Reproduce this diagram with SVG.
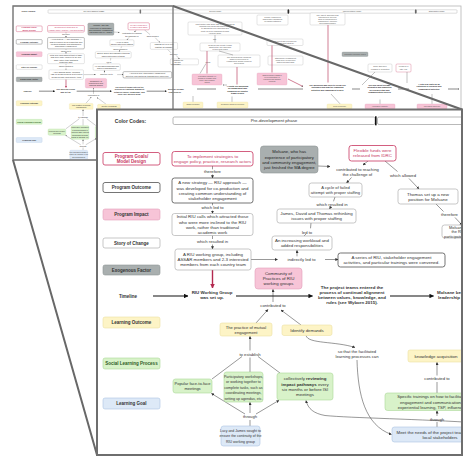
<svg xmlns="http://www.w3.org/2000/svg" xmlns:xlink="http://www.w3.org/1999/xlink" width="474" height="462" viewBox="0 0 474 462">
<style>
text{font-family:"Liberation Sans",Arial,sans-serif;fill:#333;text-anchor:middle}
.n{font-size:4.4px}
.st{text-anchor:start}
.lb{font-size:4.2px;fill:#333}
.b{font-weight:bold}
.leg{font-size:4.5px;font-weight:bold}
.cr{fill:#c8365f}
.box{fill:#fff;stroke:#a3a3a3;stroke-width:0.6}
.goal{fill:#fff;stroke:#c8365f;stroke-width:0.8}
.out{fill:#fff;stroke:#3a3a3a;stroke-width:0.7}
.imp{fill:#f7c4d7;stroke:#e3a0bb;stroke-width:0.6}
.exo{fill:#a9afaf;stroke:#8d9393;stroke-width:0.6}
.lo{fill:#fdf4c6;stroke:#ece0a2;stroke-width:0.6}
.slp{fill:#d8f2c9;stroke:#abd998;stroke-width:0.6}
.lg{fill:#dde9f7;stroke:#abc4e2;stroke-width:0.6}
.ph{fill:#fff;stroke:#8a8a8a;stroke-width:0.6}
.c{stroke:#333;stroke-width:0.5;fill:none}
.tl{stroke:#111;stroke-width:1.1;fill:none}
.red{stroke:#b3294f;stroke-width:1.4;fill:none}
.tt{font-size:1.9px;fill:#555}
.ttb{font-size:2px;font-weight:bold;fill:#222}
.thin{stroke-width:0.3}
</style>
<defs>
<marker id="a" viewBox="0 0 10 10" refX="9" refY="5" markerWidth="3" markerHeight="3" orient="auto" markerUnits="userSpaceOnUse"><path d="M0,0L10,5L0,10z" fill="#333"/></marker>
<marker id="at" viewBox="0 0 10 10" refX="9" refY="5" markerWidth="4.5" markerHeight="4.5" orient="auto" markerUnits="userSpaceOnUse"><path d="M0,0L10,5L0,10z" fill="#111"/></marker>
<marker id="ar" viewBox="0 0 10 10" refX="9" refY="5" markerWidth="4.5" markerHeight="4.5" orient="auto" markerUnits="userSpaceOnUse"><path d="M0,0L10,5L0,10z" fill="#b3294f"/></marker>
<marker id="as" viewBox="0 0 10 10" refX="9" refY="5" markerWidth="1.6" markerHeight="1.6" orient="auto" markerUnits="userSpaceOnUse"><path d="M0,0L10,5L0,10z" fill="#222"/></marker>
<clipPath id="thumbClip"><rect x="13" y="6" width="448" height="154"/></clipPath>
<clipPath id="zoomClip"><rect x="98" y="110.5" width="363" height="343.5"/></clipPath>
</defs>
<rect width="474" height="462" fill="#fff"/>

<g id="thumbnail">
<rect x="13" y="6" width="448" height="154" fill="#fff" stroke="#b5b5b5" stroke-width="0.8"/>
<g clip-path="url(#thumbClip)">
<use href="#zoomContent" xlink:href="#zoomContent" transform="scale(0.4545) translate(-67.3,-95.4)"/>
<g id="thumb-right">
<text class="tt" x="215.3" y="12.2">Second phase</text>
<rect class="ph thin" x="289.5" y="9.8" width="125.5" height="3.4" rx="0.7"/>
<text class="tt" x="352" y="12.2">Implementation phase</text>
<rect class="ph thin" x="416.5" y="9.8" width="40.5" height="3.4" rx="0.7"/>
<text class="tt" x="436.7" y="12.2">Stabilisation phase</text>
<rect x="288.2" y="9.4" width="0.9" height="4.2" fill="#111"/>
<rect x="415.4" y="9.4" width="0.9" height="4.2" fill="#111"/>
<g id="t-b1"><rect class="box thin" x="188" y="22" width="54" height="13" rx="1"/><text class="tt" x="215" y="24.9">MIS together with SPS/ASSAR team members<tspan x="215" dy="2.2">organised meetings with stakeholders</tspan><tspan x="215" dy="2.2">to discuss the RIU approach and</tspan><tspan x="215" dy="2.2">jointly develop engagement plans</tspan><tspan x="215" dy="2.2">(Wyborn 2015)</tspan></text></g>
<text class="tt" x="214.5" y="40.2">and</text>
<g id="t-b2"><rect class="box thin" x="200" y="43" width="40" height="8" rx="1"/><text class="tt" x="220" y="45.6">Regional and country teams<tspan x="220" dy="2.2">adopted the RIU approach</tspan><tspan x="220" dy="2.2">in their work plans</tspan></text></g>
<text class="tt" x="208" y="62.5">which</text>
<g id="t-b3"><rect class="box thin" x="218" y="55" width="42" height="12" rx="1"/><text class="tt" x="239" y="57.7">RIU working group members<tspan x="239" dy="2.2">shared experiences of</tspan><tspan x="239" dy="2.2">engagement across countries</tspan><tspan x="239" dy="2.2">and regions</tspan></text></g>
<g id="t-p1"><rect class="imp thin" x="192" y="74" width="30" height="11" rx="1"/><text class="tt" x="207" y="76.8">Increased capacity of<tspan x="207" dy="2.2">teams to engage with</tspan><tspan x="207" dy="2.2">policy and practice</tspan><tspan x="207" dy="2.2">actors</tspan></text></g>
<g id="t-p2"><rect class="imp thin" x="257" y="73" width="30" height="12" rx="1"/><text class="tt" x="272" y="75.8">Stakeholders engaged<tspan x="272" dy="2.2">in co-production of</tspan><tspan x="272" dy="2.2">research and shared</tspan><tspan x="272" dy="2.2">learning</tspan></text></g>
<g id="t-b4"><rect class="box thin" x="257" y="15" width="31" height="10" rx="1"/><text class="tt" x="272.5" y="18">Country teams held<tspan x="272.5" dy="2.2">stakeholder workshops</tspan><tspan x="272.5" dy="2.2">on impact pathways</tspan></text></g>
<g id="t-b5"><rect class="box thin" x="267" y="39" width="36" height="6.5" rx="1"/><text class="tt" x="285" y="41.8">The RIU team reviewed the<tspan x="285" dy="2.2">engagement strategy</tspan></text></g>
<g id="t-b6"><rect class="box thin" x="268" y="56" width="35" height="9" rx="1"/><text class="tt" x="285.5" y="58.8">Stakeholder engagement<tspan x="285.5" dy="2.2">plans were revised and</tspan><tspan x="285.5" dy="2.2">shared across teams</tspan></text></g>
<g id="t-b7"><rect class="box thin" x="310" y="13" width="35" height="12" rx="1"/><text class="tt" x="327.5" y="15.6">The 'Talent' approach was<tspan x="327.5" dy="2.2">introduced to develop</tspan><tspan x="327.5" dy="2.2">skills of researchers in</tspan><tspan x="327.5" dy="2.2">engagement, influence</tspan><tspan x="327.5" dy="2.2">and communication</tspan></text></g>
<g id="t-e1"><rect class="exo thin" x="342" y="52" width="26" height="4.5" rx="1"/><text class="tt" x="355" y="55">Thematic research ended</text></g>
<g id="t-b8"><rect class="box thin" x="368" y="64" width="24" height="8" rx="1"/><text class="tt" x="380" y="67.3">Some staff were<tspan x="380" dy="2.2">engaged in consulting</tspan></text></g>
<g id="t-g1"><rect class="goal thin" x="396" y="64" width="15" height="8" rx="1"/><text class="tt cr" x="403.5" y="67.3">Funds for a<tspan x="403.5" dy="2.2">fifth year</tspan></text></g>
<g id="t-tl1"><text class="ttb" x="237.5" y="87">A fourth RIU workshop<tspan x="237.5" dy="2.3">on engagement was</tspan><tspan x="237.5" dy="2.3">organised for country</tspan><tspan x="237.5" dy="2.3">teams in 2016</tspan></text></g>
<g id="t-tl2"><text class="ttb" x="327.5" y="86">The workshop was used to review RIU<tspan x="327.5" dy="2.3">outcomes and plan the remaining</tspan><tspan x="327.5" dy="2.3">activities and engagement in 2017</tspan></text></g>
<g id="t-tl3"><text class="ttb" x="379.5" y="86">RIU and Talent became<tspan x="379.5" dy="2.3">integrated and supported</tspan><tspan x="379.5" dy="2.3">by research staff and</tspan><tspan x="379.5" dy="2.3">communication officers</tspan></text></g>
<g id="t-tl4"><text class="ttb" x="429" y="85">A fifth year party as an<tspan x="429" dy="2.3">extension of research and</tspan><tspan x="429" dy="2.3">engagement activities</tspan></text></g>
<g id="t-lo"><rect class="lo thin" x="183" y="102" width="20" height="6" rx="1"/><rect class="lo thin" x="217" y="102" width="31" height="6" rx="1"/><rect class="lo thin" x="327" y="104" width="25" height="5" rx="1"/><rect class="imp thin" x="365" y="104" width="30" height="5" rx="1"/><rect class="imp thin" x="417" y="104" width="30" height="5" rx="1"/><text class="tt" x="193" y="104.6">Shared practice</text><text class="tt" x="232.5" y="104.6">Creating a shared repertoire</text><text class="tt" x="339.5" y="106.5">Joint enterprise</text><text class="tt" x="380" y="106.5">Increased capacity</text><text class="tt" x="432" y="106.5">Increased influence</text></g>
<g id="t-conn">
<path class="c thin" d="M215,35V42.6M219,51L233,55M206,63.5L200,73.5M193,101.8V96M232,101.8V96.5M340,103.8L331,94M380,103.8V99.5M432,103.8V94M375,72L362,85M407,72V83M227,85L223,85" marker-end="url(#as)"/>
<path class="tl" style="stroke-width:0.5" d="M197,89H216M258,89H303M352,89H360M398,89H409M448,89H459" marker-end="url(#as)"/>
<path class="red" style="stroke-width:0.6" d="M207,51V73.5M237,67V84.5M272,45.5V72.5M328,25V82.5M288,79L303,86.5" marker-end="url(#as)"/>
</g>
</g>
</g>
</g>

<g id="magnifier">
<path d="M97,160H13V6H173V109.5" fill="none" stroke="#777" stroke-width="1.3"/>
<path d="M173,6L462,109.5M13,160L97,455" fill="none" stroke="#686868" stroke-width="2"/>
</g>

<g id="zoom-panel">
<rect x="97" y="109.5" width="365" height="345.5" fill="#fff" stroke="#6e6e6e" stroke-width="2"/>
<g clip-path="url(#zoomClip)">
<g id="zoomContent">
<g id="header">
<text class="leg" style="font-size:5px" x="130.5" y="122.8">Color Codes:</text>
<rect class="ph" x="173" y="117" width="202" height="7.5" rx="1.5"/>
<text class="n" x="274" y="122.3">Pre-development phase</text>
<rect x="375" y="116.3" width="1.6" height="9" fill="#111"/>
<rect class="ph" x="377.5" y="117" width="323" height="7.5" rx="1.5"/>
<rect x="700.2" y="116.3" width="1.6" height="9" fill="#111"/>
</g>
<g id="legend">
<g id="leg-goal"><rect class="goal" x="103" y="152.5" width="57" height="12.5" rx="2"/><text class="leg cr" x="131.5" y="157.7">Program Goals/<tspan x="131.5" dy="5">Model Design</tspan></text></g>
<g id="leg-outcome"><rect class="out" x="103" y="182.5" width="57" height="10" rx="2"/><text class="leg" x="131.5" y="189.2">Program Outcome</text></g>
<g id="leg-impact"><rect class="imp" x="103" y="209" width="57" height="11" rx="2"/><text class="leg" x="131.5" y="216.1">Program Impact</text></g>
<g id="leg-story"><rect class="box" x="103" y="238" width="57" height="10" rx="2"/><text class="leg" x="131.5" y="244.7">Story of Change</text></g>
<g id="leg-exo"><rect class="exo" x="103" y="265" width="57" height="10" rx="2"/><text class="leg" x="131.5" y="271.7">Exogenous Factor</text></g>
<g id="leg-timeline"><text class="leg" x="128" y="297.6">Timeline</text></g>
<g id="leg-lo"><rect class="lo" x="103" y="317" width="57" height="11" rx="2"/><text class="leg" x="131.5" y="324.1">Learning Outcome</text></g>
<g id="leg-slp"><rect class="slp" x="103" y="358" width="57" height="11" rx="2"/><text class="leg" style="fill:#2d5a1f" x="131.5" y="365.1">Social Learning Process</text></g>
<g id="leg-lg"><rect class="lg" x="103" y="398" width="57" height="11" rx="2"/><text class="leg" x="131.5" y="405.1">Learning Goal</text></g>
</g>

<g id="connectors">
<path class="c" d="M212.5,166V169.3M212.5,203V205.3M212.5,235.5V239M335,197L333.5,201.3M311,223L310.5,228.3M306,234L304,236M385,161L397.5,171.5M436,204L443.5,211.5M437,393V382M437,427V422M250,426V420M242,356.5L212,379M258,356.5L280,373M250,357.5V372"/>
<path class="c" marker-end="url(#a)" d="M212.5,174.5V178"/>
<path class="c" marker-end="url(#a)" d="M212.5,210.5V213.5"/>
<path class="c" marker-end="url(#a)" d="M212.5,244.5V249"/>
<path class="c" marker-end="url(#a)" d="M251,259.5H277.5"/>
<path class="c" marker-end="url(#a)" d="M297,256.3V250.3"/>
<path class="c" marker-end="url(#a)" d="M325,259.5H338"/>
<path class="c" marker-end="url(#a)" d="M318,166L330,166.5"/>
<path class="c" marker-end="url(#a)" d="M368,161L363,165"/>
<path class="c" marker-end="url(#a)" d="M351.5,177.5L346.5,183"/>
<path class="c" marker-end="url(#a)" d="M331,206.5L329.5,209"/>
<path class="c" marker-end="url(#a)" d="M409,178.5L419,189"/>
<path class="c" marker-end="url(#a)" d="M455,217.5L462,225"/>
<path class="c" marker-end="url(#a)" d="M273,302V289.3"/>
<path class="c" marker-end="url(#a)" d="M256,323L268,309.5"/>
<path class="c" marker-end="url(#a)" d="M301,325L281,310"/>
<path class="c" marker-end="url(#a)" d="M250,350.5V336.3"/>
<path class="c" marker-end="url(#a)" d="M245,414L211.5,393.5"/>
<path class="c" marker-end="url(#a)" d="M256,414L279,400.3"/>
<path class="c" marker-end="url(#a)" d="M250,413V402.3"/>
<path class="c" marker-end="url(#a)" d="M437,375.5V362.3"/>
<path class="c" marker-end="url(#a)" d="M437,416V410.8"/>
<path class="c" marker-end="url(#a)" d="M306,335.5C308,344 335,341 355,347.5"/>
<path class="c" marker-end="url(#a)" d="M357,360C358,395 365,425 391.5,434.5"/>
<path class="c" marker-end="url(#a)" d="M480,423C420,419 350,418 325,415.5C314,413.5 308,409 306,400.5"/>
<path class="tl" marker-end="url(#at)" d="M153,296H188"/>
<path class="tl" marker-end="url(#at)" d="M236,296H312.5"/>
<path class="tl" marker-end="url(#at)" d="M390,296H433.5"/>
<path class="red" marker-end="url(#ar)" d="M212.5,270V288"/>
</g>

<g id="labels">
<text class="lb" x="212.5" y="173.4">therefore</text>
<text class="lb" x="212.5" y="209.4">which led to</text>
<text class="lb" x="212.5" y="243.3">which resulted in</text>
<text class="lb" x="301.5" y="261">indirectly led to</text>
<text class="lb" x="357.5" y="170.5">contributed to reaching<tspan x="357.5" dy="5.3">the challenge of</tspan></text>
<text class="lb" x="403" y="176.5">which allowed</text>
<text class="lb" x="449.5" y="216.2">therefore</text>
<text class="lb" x="332" y="205.8">which resulted in</text>
<text class="lb" x="307" y="233.5">led to</text>
<text class="lb" x="273" y="306.5">contributed to</text>
<text class="lb" x="250" y="355.5">to establish</text>
<text class="lb" x="250" y="418">through</text>
<text class="lb" x="357" y="352.5">so that the facilitated<tspan x="357" dy="5.3">learning processes can</tspan></text>
<text class="lb" x="437" y="380">contributed to</text>
<text class="lb" x="437" y="420.5">through</text>
</g>

<g id="n-goal-implement"><rect class="goal" x="172" y="151.5" width="81" height="14.5" rx="2.5"/><text class="n cr" x="212.5" y="157.7">To implement strategies to<tspan x="212.5" dy="5.2">engage policy, practice, research actors</tspan></text></g>
<g id="n-new-strategy"><rect class="out" x="172" y="178" width="81" height="25" rx="2.5"/><text class="n" x="212.5" y="184.3">A new strategy — RIU approach —<tspan x="212.5" dy="5.2">was developed for co-production and</tspan><tspan x="212.5" dy="5.2">creating common understanding of</tspan><tspan x="212.5" dy="5.2">stakeholder engagement</tspan></text></g>
<g id="n-initial-calls"><rect class="box" x="172" y="213.5" width="81" height="22" rx="2.5"/><text class="n" x="212.5" y="218.4">Initial RIU calls which attracted those<tspan x="212.5" dy="5.2">who were more inclined to the RIU</tspan><tspan x="212.5" dy="5.2">work, rather than traditional</tspan><tspan x="212.5" dy="5.2">academic work</tspan></text></g>
<g id="n-working-group"><rect class="box" x="175" y="249" width="76" height="21" rx="2.5"/><text class="n" x="213" y="255.9">A RIU working group, including<tspan x="213" dy="5.2">ASSAR members and 2-3 interested</tspan><tspan x="213" dy="5.2">members from each country team</tspan></text></g>
<g id="n-wg-setup"><text class="n b" x="212" y="294">RIU Working Group<tspan x="212" dy="5.3">was set up.</tspan></text></g>
<g id="n-cop"><rect class="imp" x="255" y="268" width="47" height="21" rx="3"/><text class="n" x="278.5" y="274.9">Community of<tspan x="278.5" dy="5.2">Practices of RIU</tspan><tspan x="278.5" dy="5.2">working groups</tspan></text></g>
<g id="n-molsane"><rect class="exo" x="260.5" y="146" width="57.5" height="27" rx="3"/><text class="n" style="font-size:4.2px;fill:#222" x="289.25" y="153.3">Molsane, who has<tspan x="289.25" dy="5.2">experience of participatory</tspan><tspan x="289.25" dy="5.2">and community engagement,</tspan><tspan x="289.25" dy="5.2">just finished the MA degree</tspan></text></g>
<g id="n-flexible-funds"><rect class="goal" x="349" y="145.5" width="47" height="15.5" rx="2.5"/><text class="n cr" x="372.5" y="152.2">Flexible funds were<tspan x="372.5" dy="5.2">released from IDRC</tspan></text></g>
<g id="n-cycle"><rect class="box" x="309" y="183" width="53" height="14" rx="2.5"/><text class="n" style="font-size:4.1px" x="335.5" y="189">A cycle of failed<tspan x="335.5" dy="5.2">attempt with proper staffing</tspan></text></g>
<g id="n-rethinking"><rect class="box" x="277" y="209" width="79" height="14" rx="2.5"/><text class="n" x="316.5" y="215">James, David and Thomas rethinking<tspan x="316.5" dy="5.2">issues with proper staffing</tspan></text></g>
<g id="n-workload"><rect class="box" x="272" y="236" width="60" height="14" rx="2.5"/><text class="n" x="302" y="242">An increasing workload and<tspan x="302" dy="5.2">added responsibilities</tspan></text></g>
<g id="n-series"><rect class="out" x="338" y="253" width="107" height="14" rx="2.5"/><text class="n" x="391.5" y="259">A series of RIU, stakeholder engagement<tspan x="391.5" dy="5.2">activities, and particular trainings were convened.</tspan></text></g>
<g id="n-thomas"><rect class="box" x="398" y="189" width="60" height="15" rx="2.5"/><text class="n" x="428" y="195.5">Thomas set up a new<tspan x="428" dy="5.2">position for Molsane</tspan></text></g>
<g id="n-molsane-role"><rect class="box" x="442" y="225" width="62" height="13" rx="2.5"/><text class="n st" style="font-size:3.9px" x="449" y="229.2">Molsane led<tspan x="451.5" dy="4.2">the RIU</tspan><tspan x="444" dy="4.2">participatory</tspan></text></g>
<g id="n-alignment"><text class="n b" x="352" y="289">The project teams entered the<tspan x="352" dy="5">process  of continual alignment</tspan><tspan x="352" dy="5">between values, knowledge, and</tspan><tspan x="352" dy="5">rules (see Wyborn 2015).</tspan></text></g>
<g id="n-molsane-leader"><text class="n b st" x="437" y="294">Molsane became<tspan x="438" dy="5.3">leadership of</tspan></text></g>
<g id="n-mutual"><rect class="lo" x="220" y="323" width="52" height="13" rx="2"/><text class="n" style="font-size:4.1px" x="246" y="328.5">The practice of mutual<tspan x="246" dy="5.2">engagement</tspan></text></g>
<g id="n-demands"><rect class="lo" x="282" y="325" width="50" height="10.5" rx="2"/><text class="n" x="307" y="331.8">Identify demands</text></g>
<g id="n-workshops"><rect class="slp" x="224" y="372" width="39" height="30" rx="2.5"/><text class="n" style="font-size:3.6px" x="243.5" y="377.6">Participatory workshops,<tspan x="243.5" dy="5.5">or working together to</tspan><tspan x="243.5" dy="5.5">complete tasks, such as</tspan><tspan x="243.5" dy="5.5">coordinating meetings,</tspan><tspan x="243.5" dy="5.5">setting up agendas, etc.</tspan></text></g>
<g id="n-meetings"><rect class="slp" x="173" y="379" width="39" height="14" rx="2.5"/><text class="n" style="font-size:4px" x="192.5" y="385">Popular face-to-face<tspan x="192.5" dy="5.2">meetings</tspan></text></g>
<g id="n-reviewing"><rect class="slp" x="277" y="373" width="56" height="27" rx="2.5"/><text class="n" x="305" y="380.3">collectively <tspan class="b">reviewing</tspan><tspan x="305" dy="5.2" class="b">impact pathways</tspan><tspan> every</tspan><tspan x="305" dy="5.2">six months or before ISI</tspan><tspan x="305" dy="5.2">meetings</tspan></text></g>
<g id="n-lucy"><rect class="lg" x="221" y="426" width="39" height="20" rx="2.5"/><text class="n" style="font-size:3.5px" x="240.5" y="431.6">Lucy and James sought to<tspan x="240.5" dy="5.5">ensure the continuity of the</tspan><tspan x="240.5" dy="5.5">RIU working group</tspan></text></g>
<g id="n-knowledge"><rect class="lo" x="408" y="350" width="62" height="12" rx="2"/><text class="n" x="436" y="357.6">knowledge acquisition</text></g>
<g id="n-trainings"><rect class="slp" x="385" y="393" width="92" height="17.5" rx="2.5"/><text class="n" style="font-size:4.2px" x="431" y="398.3">Specific trainings on how to facilitate<tspan x="431" dy="5.2">engagement and communication,</tspan><tspan x="431" dy="5.2">experiential learning, TSP, influence</tspan></text></g>
<g id="n-needs"><rect class="lg" x="392" y="427" width="95" height="15" rx="2.5"/><text class="n st" x="396.5" y="433.5">Meet the needs of the project teams<tspan class="n" style="text-anchor:middle" x="440" dy="5.2">local stakeholders</tspan></text></g>
</g>
</g>
</g>
</svg>
